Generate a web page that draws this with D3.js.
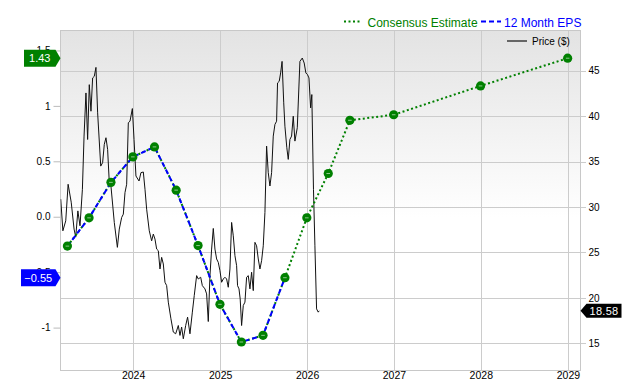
<!DOCTYPE html>
<html><head><meta charset="utf-8">
<script src="https://cdn.jsdelivr.net/npm/d3@7"></script>
<style>body{margin:0;background:#fff}svg{display:block;font-family:"Liberation Sans",Arial,sans-serif}</style>
</head><body><svg id="c" width="640" height="380"></svg>
<script>
// ---- data ----
const epsDates = ["2023-03-31","2023-06-30","2023-09-30","2023-12-31","2024-03-31","2024-06-30","2024-09-30","2024-12-31","2025-03-31","2025-06-30","2025-09-30","2025-12-31","2026-03-31","2026-06-30","2026-12-31","2027-12-31","2028-12-31"];
const epsValues = [-0.265,-0.01,0.31,0.54,0.63,0.24,-0.26,-0.79,-1.13,-1.07,-0.55,-0.01,0.39,0.87,0.92,1.18,1.43];
const actualCount = 11; // first 11 points are reported 12 Month EPS
const priceDates = ["2023-03-03","2023-03-12","2023-03-24","2023-04-03","2023-04-16","2023-04-28","2023-05-05","2023-05-14","2023-05-23","2023-06-02","2023-06-09","2023-06-17","2023-06-24","2023-07-01","2023-07-08","2023-07-15","2023-07-22","2023-07-29","2023-08-05","2023-08-18","2023-08-26","2023-09-02","2023-09-09","2023-09-16","2023-09-23","2023-09-30","2023-10-14","2023-10-27","2023-11-04","2023-11-14","2023-11-21","2023-11-28","2023-12-05","2023-12-12","2023-12-19","2023-12-29","2024-01-05","2024-01-13","2024-01-26","2024-02-03","2024-02-13","2024-02-20","2024-02-27","2024-03-09","2024-03-19","2024-03-26","2024-04-02","2024-04-09","2024-04-16","2024-04-23","2024-04-30","2024-05-07","2024-05-14","2024-05-21","2024-05-28","2024-06-08","2024-06-18","2024-06-28","2024-07-09","2024-07-16","2024-07-23","2024-07-30","2024-08-09","2024-08-17","2024-08-27","2024-09-06","2024-09-14","2024-09-24","2024-10-01","2024-10-11","2024-10-18","2024-10-29","2024-11-05","2024-11-12","2024-11-19","2024-11-26","2024-12-03","2024-12-10","2024-12-17","2024-12-24","2024-12-31","2025-01-07","2025-01-14","2025-01-21","2025-01-28","2025-02-04","2025-02-11","2025-02-18","2025-02-25","2025-03-04","2025-03-11","2025-03-15","2025-03-21","2025-03-26","2025-04-01","2025-04-08","2025-04-15","2025-04-22","2025-04-29","2025-05-06","2025-05-13","2025-05-20","2025-05-27","2025-06-03","2025-06-10","2025-06-17","2025-06-24","2025-07-01","2025-07-08","2025-07-15","2025-07-22","2025-07-29","2025-08-05","2025-08-12","2025-08-19","2025-08-26","2025-08-30","2025-09-06","2025-09-12","2025-09-18","2025-09-25","2025-09-30","2025-10-08","2025-10-14","2025-10-21","2025-10-28","2025-11-04","2025-11-11","2025-11-21","2025-12-02","2025-12-12","2025-12-20","2025-12-27","2026-01-03","2026-01-09","2026-01-16","2026-01-21","2026-01-28","2026-02-03","2026-02-10","2026-02-17","2026-02-21"];
const priceValues = [30.86,27.38,28.48,32.5,30.53,27.57,26.69,29.57,27.93,31.95,37.8,42.55,37.43,43.46,40.54,44.2,44.38,45.36,40.36,34.5,34.88,36.89,37.62,36.34,32.69,32.31,28.3,25.56,27.57,28.85,29.21,31.59,32.5,39.27,39.44,40.83,37.43,33.41,32.86,33.78,33.85,31.95,29.76,27.38,26.28,27.02,26.47,25.37,25.19,23.18,24.46,23.73,21.72,21.35,19.53,17.7,16.24,16.05,16.96,15.87,16.79,15.5,16.96,17.88,16.05,18.43,20.25,22.45,22.08,22.27,21.35,20.99,20.44,17.4,22.45,25.37,27.64,25.37,24.28,23.91,22.99,21.72,22.08,22.27,22.08,21.17,23.18,28.3,26.83,24.64,23.54,21.35,20.99,19.89,16.96,19.16,19.53,22.27,22.45,20.99,22.82,20.8,26.11,25.73,24.28,23.18,24.09,25.73,29.4,36.7,33.78,32.31,33.78,37.8,39.08,39.44,43.65,43.83,44.75,46.02,41.46,38.89,36.52,35.24,37.43,37.8,39.99,37.25,38.72,46.02,46.39,45.84,44.75,44.56,44.2,40.91,42.37,31.95,25.73,18.79,18.43,18.58];
const yearTicks = ["2024","2025","2026","2027","2028","2029"];
const epsTicks = [-1,-0.5,0,0.5,1,1.5];
const epsTickLabels = ["-1","-0.5","0.0","0.5","1","1.5"];
const priceTicks = [15,20,25,30,35,40,45];
const lastEps = 1.43, lastActualEps = -0.55, lastPrice = 18.58;
const legendLabels = ["Consensus Estimate","12 Month EPS","Price ($)"];

// ---- layout ----
const L=60.5, R=580.5, T=30.5, B=370.5;
const parse = d3.timeParse("%Y-%m-%d");
const svg = d3.select("#c");
const x = d3.scaleTime().domain([parse("2023-03-02"), parse("2029-02-23")]).range([L,R]);
const yE = d3.scaleLinear().domain([-1.387,1.680]).range([B,T]);
const yP = d3.scaleLinear().domain([12.01,49.42]).range([B,T]);

const defs = svg.append("defs");
const g = defs.append("linearGradient").attr("id","bg").attr("x1",0).attr("y1",0).attr("x2",0).attr("y2",1);
g.append("stop").attr("offset","0%").attr("stop-color","#e3e3e3");
g.append("stop").attr("offset","55%").attr("stop-color","#ffffff");
g.append("stop").attr("offset","100%").attr("stop-color","#ffffff");
defs.append("clipPath").attr("id","clip").append("rect").attr("x",L).attr("y",T).attr("width",R-L).attr("height",B-T);

svg.append("rect").attr("x",L).attr("y",T).attr("width",R-L).attr("height",B-T).attr("fill","url(#bg)");

// grid
const grid = svg.append("g").attr("stroke","#cccccc").attr("stroke-width",1).attr("shape-rendering","crispEdges");
grid.selectAll(".h").data(priceTicks).join("line").attr("x1",L).attr("x2",R+5).attr("y1",d=>Math.round(yP(d))+0.5).attr("y2",d=>Math.round(yP(d))+0.5);
grid.selectAll(".v").data(yearTicks).join("line").attr("y1",T).attr("y2",B).attr("x1",d=>Math.round(x(parse(d+"-01-01")))+0.5).attr("x2",d=>Math.round(x(parse(d+"-01-01")))+0.5);
svg.append("rect").attr("x",L).attr("y",T).attr("width",R-L).attr("height",B-T).attr("fill","none").attr("stroke","#c8c8c8").attr("shape-rendering","crispEdges");

// axes
const ax = svg.append("g").attr("transform",`translate(0,${B})`).call(d3.axisBottom(x).tickValues(yearTicks.map(d=>parse(d+"-01-01"))).tickFormat(d3.timeFormat("%Y")).tickSize(0).tickPadding(1.5));
ax.select(".domain").remove();
ax.selectAll("text").attr("font-size",10.5).attr("fill","#000").attr("font-family","Liberation Sans, Arial");

const al = svg.append("g").attr("transform",`translate(${L},0)`).call(d3.axisLeft(yE).tickValues(epsTicks).tickFormat((d,i)=>epsTickLabels[i]).tickSize(7).tickPadding(3));
al.select(".domain").remove();
al.selectAll("line").attr("stroke","#bbb");
al.selectAll("text").attr("font-size",10).attr("fill","#000").attr("font-family","Liberation Sans, Arial");

const ar = svg.append("g").attr("transform",`translate(${R},0)`).call(d3.axisRight(yP).tickValues(priceTicks).tickSize(0).tickPadding(8));
ar.select(".domain").remove();
ar.selectAll("text").attr("font-size",10).attr("fill","#000").attr("font-family","Liberation Sans, Arial");

// price line
const plot = svg.append("g").attr("clip-path","url(#clip)");
const priceData = priceDates.map((d,i)=>({d:parse(d),v:priceValues[i]}));
plot.append("path").datum(priceData).attr("fill","none").attr("stroke","#111").attr("stroke-width",1)
  .attr("d",d3.line().x(d=>x(d.d)).y(d=>yP(d.v)));

// EPS lines
const epsData = epsDates.map((d,i)=>({d:parse(d),v:epsValues[i]}));
const le = d3.line().x(d=>x(d.d)).y(d=>yE(d.v));
plot.append("path").datum(epsData).attr("fill","none").attr("stroke","#008000").attr("stroke-width",2).attr("stroke-dasharray","2,2.5").attr("d",le);
plot.append("path").datum(epsData.slice(0,actualCount)).attr("fill","none").attr("stroke","#0000ff").attr("stroke-width",2).attr("stroke-dasharray","5,3").attr("d",le);
const pts = plot.selectAll(".pt").data(epsData).join("g").attr("transform",d=>`translate(${x(d.d)},${yE(d.v)})`);
pts.append("circle").attr("r",4.6).attr("fill","#008000");
pts.append("line").attr("x1",-1.8).attr("x2",1.8).attr("stroke","#fff").attr("stroke-opacity",0.55).attr("stroke-width",1);

// legend
const lg = svg.append("g").attr("font-size",12).attr("font-family","Liberation Sans, Arial");
lg.append("line").attr("x1",344).attr("x2",362).attr("y1",21.5).attr("y2",21.5).attr("stroke","#008000").attr("stroke-width",2).attr("stroke-dasharray","2,2.5");
lg.append("text").attr("x",367.5).attr("y",26.5).attr("fill","#008000").text(legendLabels[0]);
lg.append("line").attr("x1",481).attr("x2",501).attr("y1",21.5).attr("y2",21.5).attr("stroke","#0000ff").attr("stroke-width",2).attr("stroke-dasharray","5,3");
lg.append("text").attr("x",504).attr("y",26.5).attr("fill","#0000ff").text(legendLabels[1]);
svg.append("line").attr("x1",507).attr("x2",527).attr("y1",41).attr("y2",41).attr("stroke","#666").attr("stroke-width",2);
svg.append("text").attr("x",532).attr("y",44.5).attr("font-size",10).attr("fill","#000").attr("font-family","Liberation Sans, Arial").text(legendLabels[2]);

// flags
function leftFlag(yv, color, label, x0){
  const h=8.5;
  svg.append("path").attr("fill",color).attr("d",`M${x0},${yv-h}L${L-5},${yv-h}L${L},${yv}L${L-5},${yv+h}L${x0},${yv+h}Z`);
  svg.append("text").attr("x",(x0+L-5)/2).attr("y",yv+4).attr("text-anchor","middle").attr("fill","#fff").attr("font-size",11).attr("font-family","Liberation Sans, Arial").text(label);
}
leftFlag(yE(lastEps),"#008000",d3.format(".2f")(lastEps),24);
leftFlag(yE(lastActualEps),"#0000ff",d3.format(".2f")(lastActualEps),21);
const yp = yP(lastPrice);
svg.append("path").attr("fill","#000").attr("d",`M${R},${yp}L${R+6},${yp-7}L${R+41},${yp-7}L${R+41},${yp+7}L${R+6},${yp+7}Z`);
svg.append("text").attr("x",R+23.5).attr("y",yp+4).attr("text-anchor","middle").attr("fill","#fff").attr("font-size",11).attr("letter-spacing",0.3).attr("font-family","Liberation Sans, Arial").text(d3.format(".2f")(lastPrice));
</script></body></html>
